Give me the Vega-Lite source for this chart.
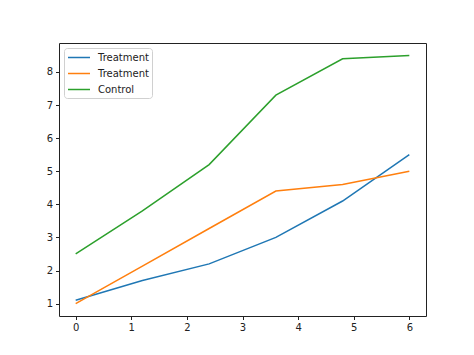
{
  "$schema": "https://vega.github.io/schema/vega-lite/v6.json",
  "width": 367,
  "height": 273,
  "autosize": {"type": "none"},
  "padding": {"left": 59, "top": 43, "right": 48, "bottom": 39},
  "background": "white",
  "config": {
    "font": "DejaVu Sans",
    "view": {"stroke": "#222", "strokeWidth": 1},
    "axis": {"grid": false, "domain": false, "tickColor": "#222", "tickSize": 3.5, "labelFontSize": 10, "labelColor": "#222", "labelPadding": 3, "title": null}
  },
  "data": {"values": [
    {"x": 0, "y": 1.1, "s": "Treatment1"},
    {"x": 1.2, "y": 1.7, "s": "Treatment1"},
    {"x": 2.4, "y": 2.2, "s": "Treatment1"},
    {"x": 3.6, "y": 3.0, "s": "Treatment1"},
    {"x": 4.8, "y": 4.1, "s": "Treatment1"},
    {"x": 6, "y": 5.5, "s": "Treatment1"},
    {"x": 0, "y": 1.0, "s": "Treatment2"},
    {"x": 1.2, "y": 2.13, "s": "Treatment2"},
    {"x": 2.4, "y": 3.27, "s": "Treatment2"},
    {"x": 3.6, "y": 4.4, "s": "Treatment2"},
    {"x": 4.8, "y": 4.6, "s": "Treatment2"},
    {"x": 6, "y": 5.0, "s": "Treatment2"},
    {"x": 0, "y": 2.5, "s": "Control"},
    {"x": 1.2, "y": 3.8, "s": "Control"},
    {"x": 2.4, "y": 5.2, "s": "Control"},
    {"x": 3.6, "y": 7.3, "s": "Control"},
    {"x": 4.8, "y": 8.4, "s": "Control"},
    {"x": 6, "y": 8.5, "s": "Control"}
  ]},
  "mark": {"type": "line", "strokeWidth": 1.5, "clip": true},
  "encoding": {
    "x": {"field": "x", "type": "quantitative", "scale": {"domain": [-0.3, 6.3], "nice": false, "zero": false}, "axis": {"values": [0, 1, 2, 3, 4, 5, 6]}},
    "y": {"field": "y", "type": "quantitative", "scale": {"domain": [0.625, 8.875], "nice": false, "zero": false}, "axis": {"values": [1, 2, 3, 4, 5, 6, 7, 8]}},
    "color": {
      "field": "s", "type": "nominal",
      "scale": {"domain": ["Treatment1", "Treatment2", "Control"], "range": ["#1f77b4", "#ff7f0e", "#2ca02c"]},
      "legend": {
        "orient": "none", "legendX": 5, "legendY": 5, "title": null,
        "labelExpr": "datum.label == 'Control' ? 'Control' : 'Treatment'",
        "symbolType": "M-1,0H3", "symbolSize": 121, "symbolStrokeWidth": 1.5,
        "labelFontSize": 10, "labelColor": "#222", "rowPadding": 4, "labelOffset": 18,
        "fillColor": "white", "strokeColor": "#d0d0d0", "cornerRadius": 3, "padding": 3
      }
    }
  }
}
